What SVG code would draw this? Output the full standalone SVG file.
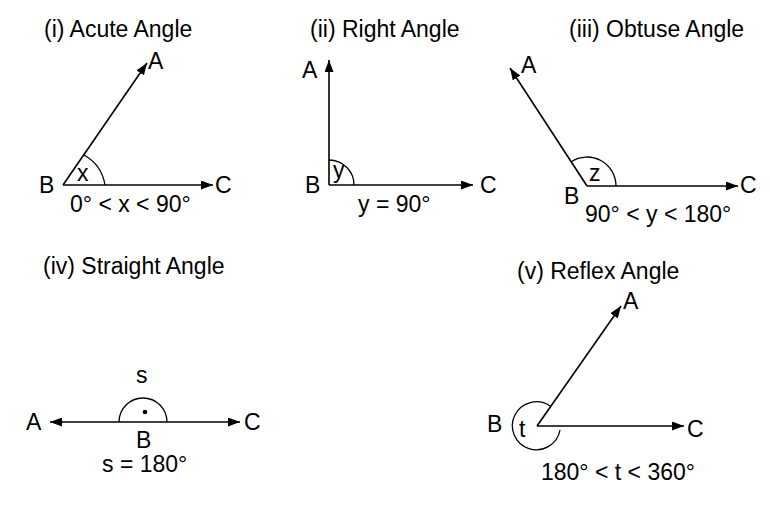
<svg xmlns="http://www.w3.org/2000/svg" width="770" height="510" viewBox="0 0 770 510">
<style>
text{font-family:"Liberation Sans",Arial,sans-serif;font-size:23px;fill:#000}
.l{stroke:#000;stroke-width:1.6;fill:none}
.a{stroke:#000;stroke-width:1.3;fill:none}
</style>
<defs><marker id="ar" viewBox="0 0 10 10" refX="10" refY="5" markerWidth="12" markerHeight="9" orient="auto-start-reverse" markerUnits="userSpaceOnUse" preserveAspectRatio="none"><path d="M0,0L10,5L0,10z"/></marker></defs>
<rect width="770" height="510" fill="#fff"/>
<g id="connectors">
<line class="l" x1="63" y1="185" x2="147" y2="63" marker-end="url(#ar)"/>
<line class="l" x1="63" y1="185" x2="213" y2="185" marker-end="url(#ar)"/>
<line class="l" x1="329" y1="185" x2="329" y2="60" marker-end="url(#ar)"/>
<line class="l" x1="329" y1="185" x2="473" y2="185" marker-end="url(#ar)"/>
<line class="l" x1="587" y1="186" x2="510" y2="68" marker-end="url(#ar)"/>
<line class="l" x1="587" y1="186" x2="738" y2="186" marker-end="url(#ar)"/>
<line class="l" x1="50" y1="422" x2="240" y2="422" marker-start="url(#ar)" marker-end="url(#ar)"/>
<line class="l" x1="537" y1="426" x2="621" y2="306" marker-end="url(#ar)"/>
<line class="l" x1="537" y1="426" x2="684" y2="426" marker-end="url(#ar)"/>
</g>
<g id="acute">
<text x="44" y="37">(i) Acute Angle</text>
<path class="a" d="M84,155 A42,42 0 0 1 105,185"/>
<text x="148" y="69">A</text><text x="39" y="193">B</text><text x="215" y="193">C</text>
<text x="77" y="181">x</text>
<text x="70" y="212">0° &lt; x &lt; 90°</text>
</g>
<g id="right">
<text x="310" y="37">(ii) Right Angle</text>
<path class="a" d="M329,160 A25,25 0 0 1 354,185"/>
<text x="302" y="78">A</text><text x="305" y="193">B</text><text x="480" y="193">C</text>
<text x="333" y="178">y</text>
<text x="358" y="212">y = 90°</text>
</g>
<g id="obtuse">
<text x="569" y="37">(iii) Obtuse Angle</text>
<path class="a" d="M571.2,161.7 A29,29 0 0 1 616,186"/>
<text x="521" y="73">A</text><text x="564" y="204">B</text><text x="740" y="193">C</text>
<text x="589" y="181">z</text>
<text x="585" y="222">90° &lt; y &lt; 180°</text>
</g>
<g id="straight">
<text x="43" y="274">(iv) Straight Angle</text>
<path class="a" d="M119,422 A24,24 0 0 1 167,422"/>
<circle cx="145" cy="412" r="2.3"/>
<text x="136" y="383">s</text>
<text x="26" y="430">A</text><text x="136" y="448">B</text><text x="244" y="430">C</text>
<text x="102" y="472">s = 180°</text>
</g>
<g id="reflex">
<text x="517" y="279">(v) Reflex Angle</text>
<path class="a" d="M550,406 A24,24 0 1 0 560,430"/>
<text x="623" y="309">A</text><text x="487" y="432">B</text><text x="687" y="437">C</text>
<text x="519" y="437">t</text>
<text x="541" y="480">180° &lt; t &lt; 360°</text>
</g>
</svg>
